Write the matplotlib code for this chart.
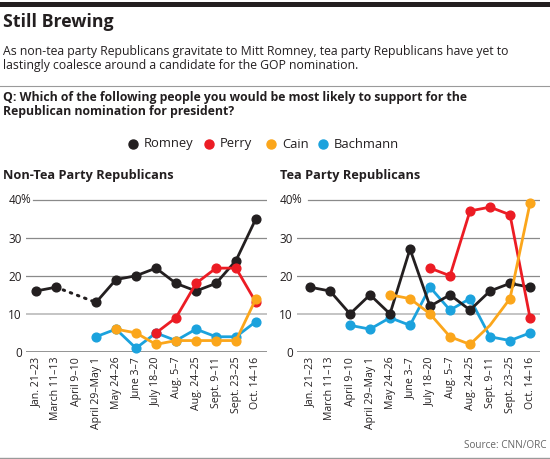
import matplotlib
matplotlib.use("Agg")
import matplotlib.pyplot as plt
from matplotlib.lines import Line2D
import numpy as np

plt.rcParams['font.family'] = ['Open Sans', 'DejaVu Sans']

dates = ["Jan. 21\u201323", "March 11\u201313", "April 9\u201310", "April 29\u2013May 1",
         "May 24\u201326", "June 3\u20137", "July 18\u201320", "Aug. 5\u20137",
         "Aug. 24\u201325", "Sept. 9\u201311", "Sept. 23\u201325", "Oct. 14\u201316"]
nan = np.nan
# Non-Tea Party Republicans
nt_romney = [16, 17, nan, 13, 19, 20, 22, 18, 16, 18, 24, 35]
nt_perry = [nan, nan, nan, nan, nan, nan, 5, 9, 18, 22, 22, 13]
nt_cain = [nan, nan, nan, nan, 6, 5, 2, 3, 3, 3, 3, 14]
nt_bachmann = [nan, nan, nan, 4, 6, 1, 5, 3, 6, 4, 4, 8]
# Tea Party Republicans
tp_romney = [17, 16, 10, 15, 10, 27, 12, 15, 11, 16, 18, 17]
tp_perry = [nan, nan, nan, nan, nan, nan, 22, 20, 37, 38, 36, 9]
tp_cain = [nan, nan, nan, nan, 15, 14, 10, 4, 2, 7, 14, 39]
tp_bachmann = [nan, nan, 7, 6, 9, 7, 17, 11, 14, 4, 3, 5]

yticks = [0, 10, 20, 30, 40]
candidates = ["Romney", "Perry", "Cain", "Bachmann"]
colors = {"Romney": "#231f20", "Perry": "#ec1c24", "Cain": "#fba61b", "Bachmann": "#1ba2dd"}

W, H = 550, 459
fig = plt.figure(figsize=(W / 100, H / 100), dpi=100)

def fx(x):
    return x / W

def fy(y):
    return 1 - y / H

# header
fig.add_artist(Line2D([0, 1], [fy(3.5), fy(3.5)], color="#231f20", lw=3.6))
fig.text(fx(3), fy(22), "Still Brewing", fontsize=12.8, fontweight="bold",
         color="#231f20", va="center", ha="left")
fig.text(fx(3), fy(51), "As non-tea party Republicans gravitate to Mitt Romney, tea party Republicans have yet to",
         fontsize=8.85, color="#231f20", va="center", ha="left")
fig.text(fx(3), fy(66), "lastingly coalesce around a candidate for the GOP nomination.",
         fontsize=8.85, color="#231f20", va="center", ha="left")
fig.add_artist(Line2D([0, 1], [fy(86), fy(86)], color="#9a9a9a", lw=0.8))
fig.text(fx(3), fy(97), "Q: Which of the following people you would be most likely to support for the",
         fontsize=8.8, fontweight="bold", color="#231f20", va="center", ha="left")
fig.text(fx(3), fy(112), "Republican nomination for president?",
         fontsize=8.8, fontweight="bold", color="#231f20", va="center", ha="left")

# legend
leg_dot_x = [133, 209, 271, 323]
for name, dx in zip(candidates, leg_dot_x):
    fig.add_artist(Line2D([fx(dx)], [fy(144)], marker="o", markersize=6.5,
                          color=colors[name], linestyle="none"))
    fig.text(fx(dx + 11), fy(144), name, fontsize=9.4, color="#231f20",
             va="center", ha="left", fontweight="medium")

fig.text(fx(3), fy(176), "Non-Tea Party Republicans", fontsize=9.2, fontweight="bold",
         color="#231f20", va="center", ha="left")
fig.text(fx(280), fy(176), "Tea Party Republicans", fontsize=9.2, fontweight="bold",
         color="#231f20", va="center", ha="left")

ymax = 42
unit = (352 - 199.5) / 40.0
top_px = 352 - ymax * unit

def make_axes(left_px, right_px, jan_px, pct_gap):
    ax = fig.add_axes([fx(left_px), fy(352), (right_px - left_px) / W, (352 - top_px) / H])
    x0 = (left_px - jan_px) / 20.0
    x1 = (right_px - jan_px) / 20.0
    ax.set_xlim(x0, x1)
    ax.set_ylim(0, ymax)
    for s in ax.spines.values():
        s.set_visible(False)
    ax.set_yticks(yticks)
    ax.set_yticklabels([str(v) for v in yticks])
    ax.tick_params(axis="y", length=0, pad=3, labelsize=8.5, labelcolor="#231f20")
    ax.set_xticks(range(len(dates)))
    ax.set_xticklabels(dates, rotation=90, fontsize=7.6, color="#231f20")
    ax.tick_params(axis="x", length=0, pad=3.5)
    for v in [20, 30]:
        ax.axhline(v, color="#8a8a8a", lw=0.9, zorder=1)
    ax.axhline(10, color="#c4c4c4", lw=1.4, zorder=1)
    ax.axhline(40, xmin=pct_gap / (right_px - left_px), color="#8a8a8a", lw=0.9, zorder=1)
    ax.axhline(0, color="#8a8a8a", lw=2.0, zorder=1)
    ax.text(-5.5 / (right_px - left_px), 40, "%", transform=ax.get_yaxis_transform(),
            fontsize=8.5, color="#231f20", ha="left", va="center")
    return ax

def plot_series(ax, vals, color, z, skip_markers=()):
    x = np.arange(len(vals))
    v = np.array(vals, dtype=float)
    ax.plot(x, v, color=color, lw=2.0, zorder=z, solid_capstyle="round", clip_on=False)
    mx = [i for i in range(len(v)) if not np.isnan(v[i]) and i not in skip_markers]
    ax.plot(x[mx], v[mx], linestyle="none", marker="o", markersize=6.3,
            color=color, zorder=z + 0.5, clip_on=False)

ax1 = make_axes(26, 267, 36, 7)
# dotted gap in Romney
ax1.plot([1, 3], [nt_romney[1], nt_romney[3]], color=colors["Romney"], lw=2.2,
         linestyle=(0, (0.5, 2.0)), dash_capstyle="round", zorder=3)
plot_series(ax1, nt_bachmann, colors["Bachmann"], 2)
plot_series(ax1, nt_romney, colors["Romney"], 3)
plot_series(ax1, nt_perry, colors["Perry"], 4)
plot_series(ax1, nt_cain, colors["Cain"], 5)

ax2 = make_axes(297, 540, 310, 11)
plot_series(ax2, tp_bachmann, colors["Bachmann"], 2)
plot_series(ax2, tp_romney, colors["Romney"], 3)
plot_series(ax2, tp_perry, colors["Perry"], 4)
plot_series(ax2, tp_cain, colors["Cain"], 5, skip_markers=(9,))

fig.text(fx(547), fy(446), "Source: CNN/ORC", fontsize=7.2, color="#666666", va="center", ha="right")
fig.add_artist(Line2D([0, 1], [fy(458), fy(458)], color="#9a9a9a", lw=1.0))

fig.savefig("out.png", dpi=100)
